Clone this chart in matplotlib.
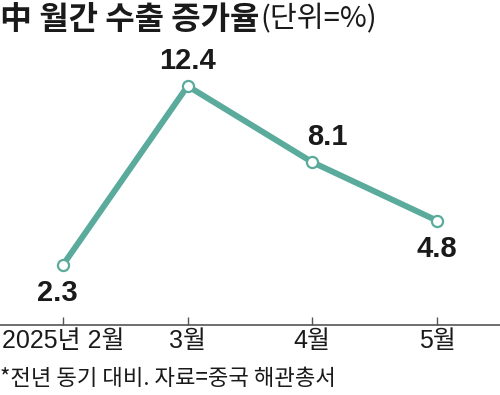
import matplotlib
matplotlib.use("Agg")
import matplotlib.pyplot as plt

# 데이터
months = ["2025년 2월", "3월", "4월", "5월"]
values = [2.3, 12.4, 8.1, 4.8]
# 값 라벨 위치 (위/아래)
label_pos = ["below", "above", "above", "below"]

title_bold = "中 월간 수출 증가율"
title_unit = "(단위=%)"
footnote = "*전년 동기 대비. 자료=중국 해관총서"

teal = "#5aab9b"
ink = "#1a1a1a"
plt.rcParams["font.family"] = ["Noto Sans CJK KR", "DejaVu Sans"]
latin = ["Liberation Sans", "Noto Sans CJK KR"]

fig = plt.figure(figsize=(5, 3.95), dpi=100)
ax = fig.add_axes([0, 70 / 395, 1, 265 / 395])

x = list(range(len(values)))
ax.plot(x, values, color=teal, lw=4.3, solid_capstyle="round", zorder=2)
ax.plot(x, values, ls="none", marker="o", ms=8, mfc="white", mec=teal, mew=1.6, zorder=3)

offsets = {"above": (0, 8, "bottom"), "below": (0, -10, "top")}
for i, (v, p) in enumerate(zip(values, label_pos)):
    dx, dy, va = offsets[p]
    if i == 0:
        dx = -4
    if i == 2:
        dx = 11
    ax.annotate(f"{v}", (i, v), xytext=(dx, dy), textcoords="offset points",
                ha="center", va=va, fontsize=21, fontweight="bold",
                family=latin, color=ink)

ax.set_xlim(-0.505, 3.505)
ax.set_ylim(-1.09, 13.87)
for s in ["top", "right", "left"]:
    ax.spines[s].set_visible(False)
ax.spines["bottom"].set_color("#555555")
ax.spines["bottom"].set_linewidth(1.2)
ax.set_yticks([])
ax.set_xticks(x)
ax.set_xticklabels(months, fontsize=18, color=ink, family=latin)
ax.tick_params(axis="x", direction="in", length=6, width=1, color="#555555", pad=3)

t1 = fig.text(0.0, 0.99, title_bold, fontsize=23, fontweight="bold", va="top", ha="left",
              color=ink)
fig.canvas.draw()
bb = t1.get_window_extent()
x_end = bb.x1 / fig.bbox.width
fig.text(x_end + 0.002, 0.988, title_unit, fontsize=21, va="top", ha="left", color=ink)

fig.text(0.0, 0.012, footnote, fontsize=16, va="bottom", ha="left", color=ink)

fig.savefig("out.png", dpi=100)
